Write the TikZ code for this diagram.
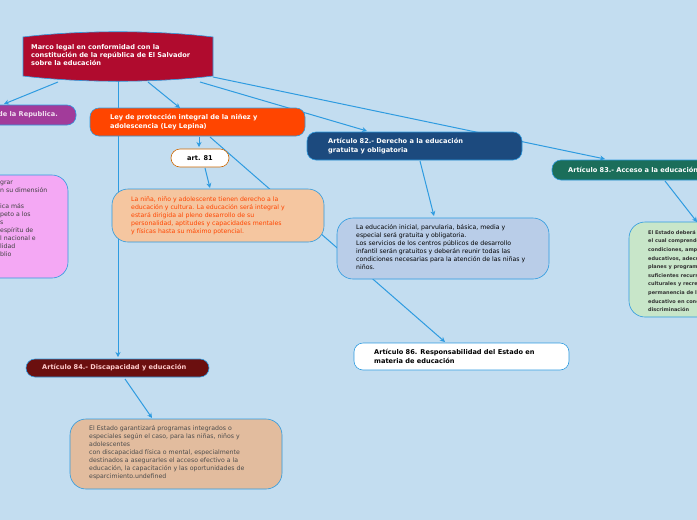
\documentclass[tikz,border=0pt]{standalone}
\usepackage{fontspec}
\setmainfont{DejaVu Sans}
\usetikzlibrary{arrows.meta,positioning,calc}
\definecolor{bgblue}{HTML}{C3DDF0}
\definecolor{linkblue}{HTML}{2E9BE0}
\definecolor{titlered}{HTML}{B00B2E}
\definecolor{lepina}{HTML}{FF4500}
\definecolor{artblue}{HTML}{1C4A7E}
\definecolor{artteal}{HTML}{1B6E5A}
\definecolor{artpurple}{HTML}{A23B9A}
\definecolor{artdark}{HTML}{6B0F0F}
\definecolor{notepink}{HTML}{F4A8F4}
\definecolor{notepeach}{HTML}{F5C6A0}
\definecolor{noteblue}{HTML}{B9CDE8}
\definecolor{notegreen}{HTML}{C8E6C9}
\definecolor{notetan}{HTML}{E2BC9E}
\tikzset{
  topic/.style={draw=linkblue, rounded corners=9pt, line width=0.6pt, inner sep=0pt},
  note/.style={draw=linkblue, rounded corners=16pt, line width=0.6pt, inner sep=0pt},
  link/.style={draw=linkblue, line width=1pt, -{Stealth[length=5pt,width=5pt]}},
  txt/.style={font=\fontsize{6.2}{8}\selectfont, align=left, anchor=north west, inner sep=0pt},
  btxt/.style={txt, font=\fontsize{6.6}{8.2}\selectfont\bfseries}
}
\begin{document}
\begin{tikzpicture}[x=1pt, y=-1pt]
  \fill[bgblue] (0,0) rectangle (697,520);
  \useasboundingbox (0,0) rectangle (697,520);

  % connectors
  \coordinate (t1) at (58,82);  \coordinate (rep) at (4,104);
  \coordinate (t2) at (148,82); \coordinate (lep) at (180,108);
  \coordinate (t3) at (118,80); \coordinate (a84) at (118,357);
  \coordinate (t4) at (200,82); \coordinate (a82) at (367,131);
  \coordinate (t5) at (213,77); \coordinate (a83) at (605,159);
  \coordinate (l1) at (199,137); \coordinate (a81) at (199,147);
  \coordinate (a81b) at (205,168); \coordinate (n81) at (210,188);
  \coordinate (l2) at (210,137); \coordinate (a86) at (445,342);
  \coordinate (a82b) at (420,161); \coordinate (n82) at (434,216);
  \coordinate (a83b) at (665,181); \coordinate (n83) at (697,222);
  \coordinate (a84b) at (125,379); \coordinate (n84) at (152,418);
  \foreach \s/\e in {t1/rep,t2/lep,t3/a84,t4/a82,t5/a83,l1/a81,a81b/n81,l2/a86,a82b/n82,a83b/n83,a84b/n84}
    \draw[link] (\s) -- (\e);

  % title
  \draw[linkblue, fill=titlered, line width=0.6pt] (23,37) .. controls (80,30) and (156,30) .. (213,37) -- (213,76) .. controls (156,83) and (80,83) .. (23,76) -- cycle;
  \node[btxt, text=white] (title) at (31,44) {Marco legal en conformidad con la\\constitución de la república de El Salvador\\sobre la educación};

  % topics
  \node[topic, fill=artpurple, minimum width=110pt, minimum height=20pt] (repub) at (21,115) {};
  \node[btxt, text=white!85!artpurple, anchor=west] (repubtext) at (-2,115) {de la Republica.};
  \node[topic, fill=lepina, minimum width=215pt, minimum height=28pt] (lepina) at (197.5,122) {};
  \node[btxt, text=white, anchor=west] (lepinatext) at (110,122) {Ley de protección integral de la niñez y\\adolescencia (Ley Lepina)};
  \node[topic, draw=orange!80!black, fill=white, minimum width=58pt, minimum height=18pt] (art81) at (200,158) {\fontsize{6.6}{8}\selectfont\bfseries art. 81};
  \node[topic, fill=artblue, minimum width=215pt, minimum height=28pt] (art82) at (414.5,146) {};
  \node[btxt, text=white, anchor=west] (art82text) at (328,146) {Artículo 82.- Derecho a la educación\\gratuita y obligatoria};
  \node[topic, fill=artteal, minimum width=168pt, minimum height=20pt] (art83) at (636,170) {};
  \node[btxt, text=white, anchor=west] (art83text) at (568,170) {Artículo 83.- Acceso a la educación};
  \node[topic, fill=white, minimum width=215pt, minimum height=27pt] (art86) at (461.5,356.5) {};
  \node[btxt, text=black, anchor=west] (art86text) at (374,356.5) {Artículo 86. Responsabilidad del Estado en\\materia de educación};
  \node[topic, fill=artdark, minimum width=183pt, minimum height=18pt] (art84) at (117.5,368) {};
  \node[btxt, text=pink!80!white, anchor=west] (art84text) at (42,368) {Artículo 84.- Discapacidad y educación};

  % notes
  \node[note, fill=notepink, minimum width=110pt, minimum height=103pt] (notep) at (13,226.5) {};
  \node[txt, text=black!75] (notetextp) at (0,181) {grar\\n su dimensión\\ \\ica más\\peto a los\\s\\ espíritu de\\l nacional e\\lidad\\blio};
  \node[note, fill=notepeach, minimum width=212pt, minimum height=53pt] (note81) at (218,215.5) {};
  \node[txt, text=lepina] (note81text) at (131,196) {La niña, niño y adolescente tienen derecho a la\\educación y cultura. La educación será integral y\\estará dirigida al pleno desarrollo de su\\personalidad, aptitudes y capacidades mentales\\y físicas hasta su máximo potencial.};
  \node[note, fill=noteblue, minimum width=212pt, minimum height=61pt] (note82) at (443,248.5) {};
  \node[txt, text=black] (note82text) at (356,224) {La educación inicial, parvularia, básica, media y\\especial será gratuita y obligatoria.\\Los servicios de los centros públicos de desarrollo\\infantil serán gratuitos y deberán reunir todas las\\condiciones necesarias para la atención de las niñas y\\niños.};
  \node[note, fill=notegreen, minimum width=120pt, minimum height=95pt] (note83) at (689,269.5) {};
  \node[txt, font=\fontsize{5}{8.6}\selectfont\bfseries, text=black!80] (note83text) at (648,230) {El Estado deberá garantizar\\el cual comprende,\\ condiciones, ampliar\\educativos, adecuar\\planes y programas\\suficientes recursos\\culturales y recreativos\\permanencia de la\\educativo en condiciones\\discriminación};
  \node[note, fill=notetan, minimum width=212pt, minimum height=70pt] (note84) at (176,454) {};
  \node[txt, text=black!70] (note84text) at (89,425) {El Estado garantizará programas integrados o\\especiales según el caso, para las niñas, niños y\\adolescentes\\ con discapacidad física o mental, especialmente\\destinados a asegurarles el acceso efectivo a la\\educación, la capacitación y las oportunidades de\\esparcimiento.undefined};
\end{tikzpicture}
\end{document}
